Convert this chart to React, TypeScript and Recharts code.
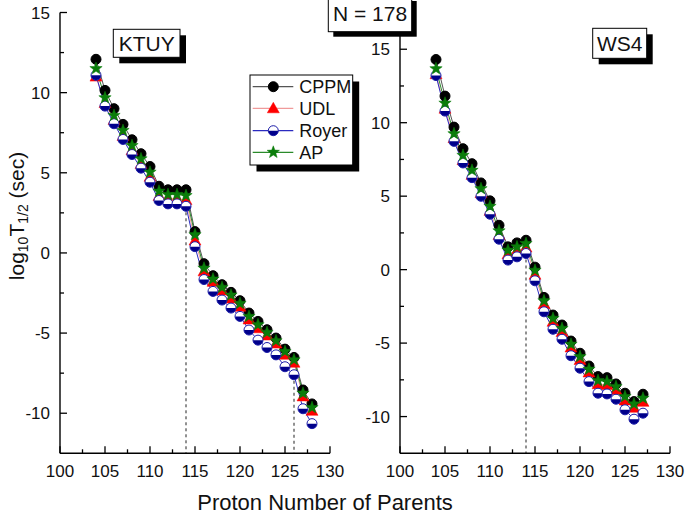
import React from "react";
import { LineChart, Line, XAxis, YAxis, ReferenceLine } from "recharts";

// KTUY panel
const ktuyZ = [104, 105, 106, 107, 108, 109, 110, 111, 112, 113, 114, 115, 116, 117, 118, 119, 120, 121, 122, 123, 124, 125, 126, 127, 128];
const ktuyCppm = [12.08, 10.14, 9.0, 8.02, 7.06, 6.19, 5.39, 4.16, 3.94, 3.94, 3.94, 1.33, -0.67, -1.42, -1.98, -2.46, -2.98, -3.75, -4.27, -4.79, -5.31, -6.0, -6.52, -8.55, -9.42];
const ktuyUdl = [11.0, 9.35, 8.3, 7.3, 6.4, 5.55, 4.75, 3.55, 3.4, 3.4, 3.3, 0.77, -1.15, -1.8, -2.35, -2.85, -3.35, -4.15, -4.7, -5.15, -5.65, -6.35, -6.85, -8.95, -9.85];
const ktuyRoyer = [11.08, 9.16, 8.06, 7.08, 6.14, 5.29, 4.41, 3.27, 3.06, 3.06, 2.91, 0.39, -1.66, -2.4, -2.94, -3.44, -3.96, -4.81, -5.44, -5.9, -6.36, -7.1, -7.6, -9.72, -10.65];
const ktuyAp = [11.5, 9.68, 8.58, 7.64, 6.7, 5.87, 5.04, 3.85, 3.64, 3.64, 3.58, 1.14, -0.95, -1.63, -2.15, -2.63, -3.15, -3.96, -4.48, -4.96, -5.48, -6.15, -6.67, -8.75, -9.65];
const ktuyDropZ = [114, 126];

// WS4 panel
const wsZ = [104, 105, 106, 107, 108, 109, 110, 111, 112, 113, 114, 115, 116, 117, 118, 119, 120, 121, 122, 123, 124, 125, 126, 127];
const wsCppm = [14.3, 11.81, 9.7, 8.23, 7.21, 5.9, 4.68, 3.02, 1.55, 1.82, 2.0, 0.17, -1.89, -3.09, -3.77, -4.86, -5.69, -6.56, -7.28, -7.35, -7.78, -8.41, -8.98, -8.48];
const wsUdl = [13.3, 10.95, 8.95, 7.45, 6.45, 5.2, 4.0, 2.35, 1.05, 1.3, 1.5, -0.35, -2.35, -3.55, -4.25, -5.3, -6.15, -7.0, -7.8, -7.85, -8.2, -8.9, -9.4, -9.0];
const wsRoyer = [13.21, 10.79, 8.73, 7.26, 6.26, 4.99, 3.77, 2.07, 0.65, 0.87, 1.1, -0.76, -2.87, -4.06, -4.74, -5.86, -6.71, -7.62, -8.41, -8.46, -8.82, -9.54, -10.18, -9.77];
const wsAp = [13.67, 11.33, 9.25, 7.78, 6.76, 5.51, 4.31, 2.64, 1.32, 1.55, 1.78, -0.05, -2.12, -3.32, -4.0, -5.08, -5.92, -6.78, -7.55, -7.62, -7.96, -8.64, -9.14, -8.75];
const wsDropZ = [114];

// axes
const xMajorTicks = [100, 105, 110, 115, 120, 125, 130];
const xMinorTicks = [102.5, 107.5, 112.5, 117.5, 122.5, 127.5];
const yMajorTicks = [-10, -5, 0, 5, 10, 15];
const yMinorTicks = [-7.5, -2.5, 2.5, 7.5, 12.5];
const ktuyDomain = [-12.5, 15];
const wsDomain = [-12.5, 17.5];

const FONT = "'Liberation Sans', Arial, sans-serif";

const buildRows = (z, cppm, udl, royer, ap) =>
  z.map((v, i) => ({ z: v, cppm: cppm[i], udl: udl[i], royer: royer[i], ap: ap[i] }));

const ktuyRows = buildRows(ktuyZ, ktuyCppm, ktuyUdl, ktuyRoyer, ktuyAp);
const wsRows = buildRows(wsZ, wsCppm, wsUdl, wsRoyer, wsAp);

const xTicks = [...xMajorTicks, ...xMinorTicks].sort((a, b) => a - b);
const yTicks = [...yMajorTicks, ...yMinorTicks].sort((a, b) => a - b);

// markers
const CircleMark = ({ cx, cy }) => <circle cx={cx} cy={cy} r={5} fill="#000" stroke="#000" />;

const TriangleMark = ({ cx, cy }) => (
  <path d={`M ${cx} ${cy - 6} L ${cx + 6} ${cy + 4.5} L ${cx - 6} ${cy + 4.5} Z`} fill="#ff0000" stroke="#ff0000" strokeWidth={0.5} />
);

const HalfMark = ({ cx, cy }) => (
  <g>
    <circle cx={cx} cy={cy} r={5} fill="#fff" />
    <path d={`M ${cx - 5} ${cy} A 5 5 0 0 0 ${cx + 5} ${cy} Z`} fill="#00008b" />
    <circle cx={cx} cy={cy} r={5} fill="none" stroke="#1c1ca8" strokeWidth={1} />
  </g>
);

const StarMark = ({ cx, cy }) => {
  const pts = [];
  for (let k = 0; k < 10; k++) {
    const r = k % 2 === 0 ? 6.5 : 2.7;
    const a = -Math.PI / 2 + (k * Math.PI) / 5;
    pts.push(`${cx + r * Math.cos(a)},${cy + r * Math.sin(a)}`);
  }
  return <polygon points={pts.join(" ")} fill="#0a7d0a" stroke="#0a7d0a" strokeWidth={0.5} />;
};

const series = [
  { key: "cppm", name: "CPPM", line: "#555555", Mark: CircleMark },
  { key: "udl", name: "UDL", line: "#f09a9a", Mark: TriangleMark },
  { key: "royer", name: "Royer", line: "#2b2bc0", Mark: HalfMark },
  { key: "ap", name: "AP", line: "#2a8a2a", Mark: StarMark },
];

// inward ticks drawn by hand, labels only on majors
const BottomTick = ({ x, y, payload }) => {
  const major = xMajorTicks.includes(payload.value);
  return (
    <g>
      <line x1={x} y1={y} x2={x} y2={y - (major ? 7 : 4)} stroke="#000" strokeWidth={1.3} />
      {major && (
        <text x={x} y={y + 24} textAnchor="middle" fontSize={17} fontFamily={FONT} fill="#111">
          {payload.value}
        </text>
      )}
    </g>
  );
};

const TopTick = ({ x, y, payload }) => {
  const major = xMajorTicks.includes(payload.value);
  return <line x1={x} y1={y} x2={x} y2={y + (major ? 7 : 4)} stroke="#000" strokeWidth={1.3} />;
};

const LeftTick = ({ x, y, payload }) => {
  const major = yMajorTicks.includes(payload.value);
  return (
    <g>
      <line x1={x} y1={y} x2={x + (major ? 7 : 4)} y2={y} stroke="#000" strokeWidth={1.3} />
      {major && (
        <text x={x - 10} y={y} dy="0.36em" textAnchor="end" fontSize={17} fontFamily={FONT} fill="#111">
          {payload.value}
        </text>
      )}
    </g>
  );
};

const RightTick = ({ x, y, payload }) => {
  const major = yMajorTicks.includes(payload.value);
  return <line x1={x} y1={y} x2={x - (major ? 7 : 4)} y2={y} stroke="#000" strokeWidth={1.3} />;
};

const axisLine = { stroke: "#000", strokeWidth: 1.4 };

const Panel = ({ rows, domain, drops, left }) => (
  <div style={{ position: "absolute", left, top: 0 }}>
    <LineChart width={345} height={517} data={rows} margin={{ top: 12.5, right: 15, bottom: 0, left: 0 }}
      style={{ overflow: "visible" }}>
      <XAxis xAxisId="top" orientation="top" type="number" dataKey="z" domain={[100, 130]} ticks={xTicks}
        interval={0} height={0} tickSize={0} tickMargin={0} tickLine={false} axisLine={axisLine}
        tick={(p) => <TopTick {...p} />} allowDataOverflow />
      <XAxis type="number" dataKey="z" domain={[100, 130]} ticks={xTicks} interval={0} height={63.7}
        tickSize={0} tickMargin={0} tickLine={false} axisLine={axisLine}
        tick={(p) => <BottomTick {...p} />} allowDataOverflow />
      <YAxis type="number" domain={domain} ticks={yTicks} interval={0} width={60} tickSize={0}
        tickMargin={0} tickLine={false} axisLine={axisLine} tick={(p) => <LeftTick {...p} />} allowDataOverflow />
      <YAxis yAxisId="right" orientation="right" type="number" domain={domain} ticks={yTicks} interval={0}
        width={0} tickSize={0} tickMargin={0} tickLine={false} axisLine={axisLine}
        tick={(p) => <RightTick {...p} />} allowDataOverflow />
      {drops.map((z) => {
        const low = rows.find((r) => r.z === z).royer;
        return (
          <ReferenceLine key={z} segment={[{ x: z, y: low }, { x: z, y: domain[0] }]}
            stroke="#222" strokeWidth={1} strokeDasharray="3 3" ifOverflow="visible" />
        );
      })}
      {series.map((s) => (
        <Line key={s.key} dataKey={s.key} name={s.name} stroke={s.line} strokeWidth={1}
          isAnimationActive={false} activeDot={false}
          dot={(p) => <s.Mark key={`${s.key}-${p.index}`} cx={p.cx} cy={p.cy} />} />
      ))}
    </LineChart>
  </div>
);

const LabelBox = ({ x, y, w, h, text, size, shadow = 6 }) => (
  <g>
    <rect x={x + shadow} y={y + shadow} width={w} height={h} fill="#000" />
    <rect x={x} y={y} width={w} height={h} fill="#fff" stroke="#000" strokeWidth={1} />
    <text x={x + w / 2} y={y + h / 2} dy="0.36em" textAnchor="middle" fontSize={size} fontFamily={FONT} fill="#111">
      {text}
    </text>
  </g>
);

const legendRows = [86.7, 108.3, 130.7, 152.3];

const Overlay = () => (
  <svg width={685} height={517} style={{ position: "absolute", left: 0, top: 0, pointerEvents: "none" }}>
    <LabelBox x={113.3} y={29.3} w={66.7} h={28} text="KTUY" size={21} />
    <LabelBox x={592.7} y={28.3} w={54} h={30} text="WS4" size={21} />
    <LabelBox x={328.3} y={-4} w={83.4} h={35.7} text="N = 178" size={21} shadow={5} />

    <g>
      <rect x={256.5} y={81.5} width={102.7} height={90} fill="#000" />
      <rect x={250} y={75} width={102.7} height={90} fill="#fff" stroke="#000" strokeWidth={1} />
      {series.map((s, i) => (
        <g key={s.key}>
          <line x1={252.7} x2={293.3} y1={legendRows[i]} y2={legendRows[i]} stroke={s.line} strokeWidth={1.2} />
          <s.Mark cx={273.3} cy={legendRows[i]} />
          <text x={299.3} y={legendRows[i]} dy="0.36em" fontSize={18} fontFamily={FONT} fill="#111">
            {s.name}
          </text>
        </g>
      ))}
    </g>

    <text transform="translate(24, 216) rotate(-90)" textAnchor="middle" fontSize={21} fontFamily={FONT} fill="#111">
      log<tspan fontSize={14} dy={4}>10</tspan>
      <tspan dy={-4}>T</tspan>
      <tspan fontSize={14} dy={4}>1/2</tspan>
      <tspan dy={-4}> (sec)</tspan>
    </text>
    <text x={325} y={510} textAnchor="middle" fontSize={22} fontFamily={FONT} fill="#111">
      Proton Number of Parents
    </text>
  </svg>
);

export default function App() {
  return (
    <div style={{ position: "absolute", left: 0, top: 0, width: 685, height: 517, background: "#fff", overflow: "hidden" }}>
      <Panel rows={ktuyRows} domain={ktuyDomain} drops={ktuyDropZ} left={0} />
      <Panel rows={wsRows} domain={wsDomain} drops={wsDropZ} left={340} />
      <Overlay />
    </div>
  );
}
